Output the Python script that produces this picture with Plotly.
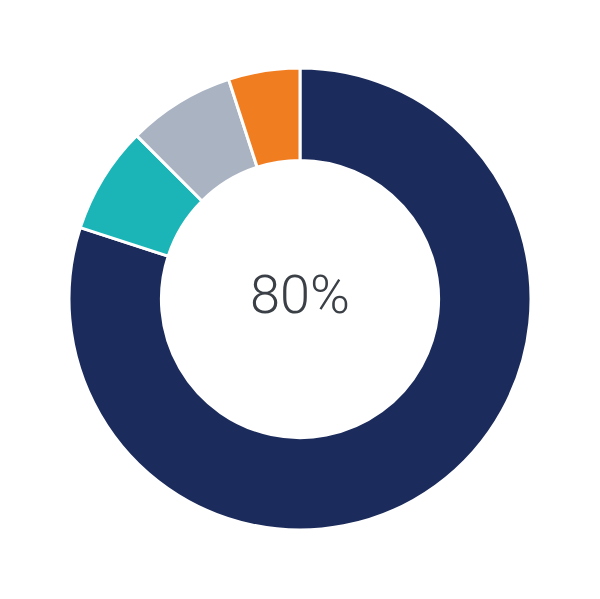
import plotly.graph_objects as go

labels = ["A", "B", "C", "D"]
values = [80, 7.5, 7.5, 5]
colors = ["#1b2b5b", "#1bb5b7", "#a9b3c2", "#f17d21"]
center_text = "80%"

fig = go.Figure(go.Pie(
    labels=labels,
    values=values,
    hole=0.6,
    sort=False,
    direction="clockwise",
    rotation=0,
    textinfo="none",
    hoverinfo="none",
    marker=dict(colors=colors, line=dict(color="white", width=3)),
    showlegend=False,
))

# big label in the hole
fig.add_annotation(text=center_text, x=0.5, y=0.5, xref="paper", yref="paper",
                   showarrow=False, yshift=5,
                   font=dict(family="Roboto", size=54, weight=300, color="#3b4047"))

# page body adds 8px, so margins are shifted to keep the ring centred
fig.update_layout(width=600, height=599,
                  margin=dict(l=61, r=77, t=60, b=77),
                  paper_bgcolor="white", plot_bgcolor="white")

fig.write_html("out.html")
